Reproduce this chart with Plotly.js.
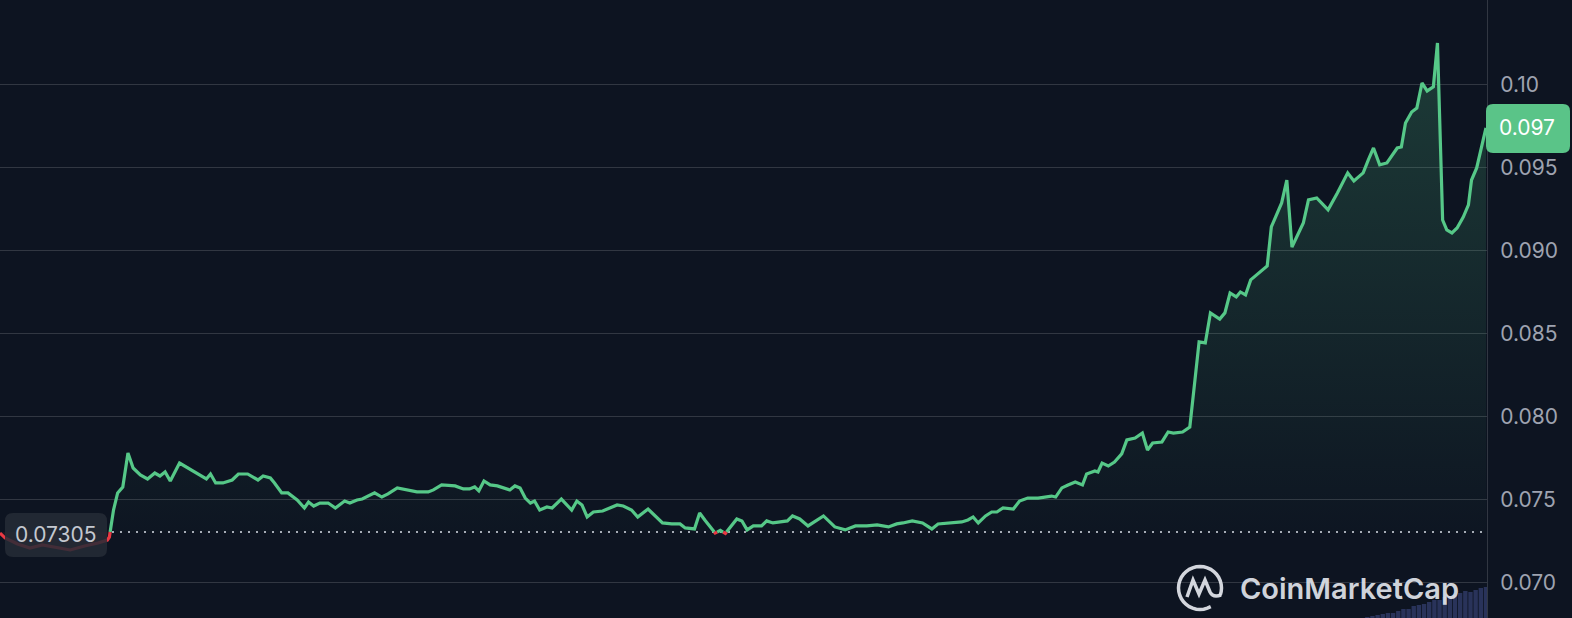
<!DOCTYPE html>
<html><head><meta charset="utf-8">
<script src="https://cdn.plot.ly/plotly-3.0.1.min.js"></script>
<style>html,body{margin:0;padding:0;background:#0d1421;overflow:hidden}#chart{width:1572px;height:618px}</style>
</head><body><div id="chart"></div>
<script>
// minutes since start of the 24h window
const minutes = [0,5,17,29,41,53,68,82,95,104,106,110,114,119,124,129,136,143,150,155,160,165,174,182,191,200,204,209,216,225,231,240,250,255,262,266,273,279,288,295,299,304,310,318,325,334,339,346,351,357,363,370,376,385,394,404,415,420,428,441,449,455,460,464,469,475,482,487,494,499,504,509,514,518,523,530,535,544,554,559,564,569,575,584,591,598,604,612,618,628,642,651,659,664,673,678,683,693,698,703,714,719,724,730,738,743,749,763,768,775,783,798,809,819,829,840,850,861,869,875,884,894,903,909,921,932,938,943,948,955,961,966,972,982,988,996,1006,1013,1019,1023,1029,1035,1042,1049,1053,1061,1064,1068,1074,1080,1087,1092,1100,1107,1112,1117,1126,1132,1137,1146,1153,1158,1162,1168,1173,1182,1187,1192,1198,1202,1207,1212,1221,1228,1232,1237,1242,1247,1252,1263,1268,1276,1287,1296,1306,1312,1321,1326,1331,1337,1344,1354,1358,1362,1368,1373,1378,1383,1389,1393,1398,1402,1407,1412,1418,1423,1426,1431,1436,1440];
const prices = [0.07299,0.07269,0.07233,0.07209,0.07227,0.07215,0.07197,0.07221,0.07239,0.07257,0.07275,0.07438,0.07541,0.07577,0.07782,0.07691,0.07649,0.07625,0.07661,0.07643,0.07667,0.07613,0.07721,0.07691,0.07661,0.07625,0.07655,0.07601,0.07601,0.07619,0.07655,0.07655,0.07619,0.07643,0.07631,0.07601,0.07541,0.07541,0.07498,0.07450,0.07486,0.07462,0.07480,0.07480,0.07450,0.07492,0.07480,0.07498,0.07504,0.07522,0.07541,0.07516,0.07535,0.07571,0.07559,0.07547,0.07547,0.07559,0.07589,0.07583,0.07565,0.07565,0.07577,0.07553,0.07613,0.07589,0.07583,0.07571,0.07559,0.07583,0.07571,0.07510,0.07480,0.07492,0.07438,0.07456,0.07450,0.07504,0.07438,0.07492,0.07468,0.07396,0.07426,0.07432,0.07450,0.07468,0.07462,0.07438,0.07396,0.07444,0.07360,0.07354,0.07354,0.07330,0.07324,0.07420,0.07378,0.07299,0.07315,0.07297,0.07384,0.07372,0.07318,0.07342,0.07342,0.07372,0.07360,0.07372,0.07402,0.07384,0.07342,0.07402,0.07336,0.07318,0.07342,0.07342,0.07348,0.07336,0.07354,0.07360,0.07372,0.07360,0.07324,0.07354,0.07360,0.07366,0.07378,0.07396,0.07360,0.07402,0.07426,0.07426,0.07450,0.07444,0.07492,0.07510,0.07510,0.07516,0.07522,0.07516,0.07571,0.07589,0.07607,0.07589,0.07655,0.07673,0.07667,0.07721,0.07703,0.07727,0.07776,0.07860,0.07872,0.07902,0.07800,0.07842,0.07848,0.07908,0.07902,0.07908,0.07938,0.08222,0.08451,0.08445,0.08626,0.08589,0.08626,0.08746,0.08722,0.08752,0.08734,0.08825,0.08873,0.08909,0.09144,0.09216,0.09289,0.09427,0.09023,0.09168,0.09307,0.09319,0.09247,0.09349,0.09470,0.09421,0.09470,0.09548,0.09620,0.09518,0.09530,0.09620,0.09626,0.09771,0.09837,0.09861,0.10012,0.09964,0.09988,0.10253,0.09186,0.09126,0.09108,0.09138,0.09204,0.09277,0.09427,0.09500,0.09638,0.09741];
const openPrice = 0.07305;
const tickValues = [0.070,0.075,0.080,0.085,0.090,0.095,0.100];
const tickLabels = ['0.070','0.075','0.080','0.085','0.090','0.095','0.10'];
const volMinutes = [1325,1330,1335,1340,1345,1350,1355,1360,1365,1370,1375,1380,1385,1390,1395,1400,1405,1410,1415,1420,1425,1430,1435,1440];
const volumes = [12,24,36,48,60,60,84,108,108,144,156,168,192,216,216,252,264,276,300,324,312,336,360,372];

const GREEN = 'rgb(86,200,136)';
const RED = 'rgb(234,57,67)';
const BG = '#0d1421';
const Y_RANGE = [0.06787, 0.10512];
const W = 1572, H = 618, MR = 85;
const PLOT_W = W - MR;

// insert baseline crossings so the line can switch colour exactly at the open price
const ax = [], ay = [];
for (let i = 0; i < minutes.length; i++) {
  if (i > 0) {
    const y0 = prices[i-1], y1 = prices[i];
    if ((y0 - openPrice) * (y1 - openPrice) < 0) {
      const t = (openPrice - y0) / (y1 - y0);
      ax.push(minutes[i-1] + t * (minutes[i] - minutes[i-1]));
      ay.push(openPrice);
    }
  }
  ax.push(minutes[i]); ay.push(prices[i]);
}
const upLine = ay.map(v => v >= openPrice ? v : null);
const dnLine = ay.map(v => v <= openPrice ? v : null);
const upFill = ay.map(v => Math.max(v, openPrice));
const dnFill = ay.map(v => Math.min(v, openPrice));
const baseArr = ay.map(() => openPrice);
const lastPrice = prices[prices.length - 1];

const traces = [
  {x: volMinutes, y: volumes, type: 'bar', yaxis: 'y2', marker: {color: 'rgba(75,88,160,0.45)', line: {width: 0}}, hoverinfo: 'skip'},
  {x: ax, y: baseArr, mode: 'lines', line: {width: 0}, hoverinfo: 'skip'},
  {x: ax, y: upFill, mode: 'lines', line: {width: 0}, fill: 'tonexty', fillcolor: 'rgba(86,200,136,0.15)',
   fillgradient: {type: 'vertical', start: openPrice, stop: 0.1025, colorscale: [[0, 'rgba(86,200,136,0.01)'], [1, 'rgba(86,200,136,0.22)']]}, hoverinfo: 'skip'},
  {x: ax, y: baseArr, mode: 'lines', line: {width: 0}, hoverinfo: 'skip'},
  {x: ax, y: dnFill, mode: 'lines', line: {width: 0}, fill: 'tonexty', fillcolor: 'rgba(234,57,67,0.07)', hoverinfo: 'skip'},
  {x: ax, y: upLine, mode: 'lines', line: {color: GREEN, width: 3.2, shape: 'linear'}, connectgaps: false, hoverinfo: 'skip'},
  {x: ax, y: dnLine, mode: 'lines', line: {color: RED, width: 3.2, shape: 'linear'}, connectgaps: false, hoverinfo: 'skip'}
];

function roundRect(x1, y1, x2, y2, r) {
  return `M ${x1+r},${y1} L ${x2-r},${y1} Q ${x2},${y1} ${x2},${y1+r} L ${x2},${y2-r} Q ${x2},${y2} ${x2-r},${y2} L ${x1+r},${y2} Q ${x1},${y2} ${x1},${y2-r} L ${x1},${y1+r} Q ${x1},${y1} ${x1+r},${y1} Z`;
}
const toPaperY = v => (v - Y_RANGE[0]) / (Y_RANGE[1] - Y_RANGE[0]);

// CoinMarketCap logo ring (decorative)
const ringPts = [];
for (let a = -20; a <= 300; a += 10) {
  const r = a * Math.PI / 180;
  ringPts.push(`${(21.5*Math.cos(r)).toFixed(2)},${(21.5*Math.sin(r)).toFixed(2)}`);
}
const ringPath = 'M ' + ringPts.join(' L ');
const mPath = 'M -13,-9 L -7,8 L -1,-6 L 5,8 L 10,-4 Q 13,-10 21,-7';
const logoX = 1200 / PLOT_W, logoY = 1 - 588 / H;

const shapes = [
  {type: 'line', xref: 'paper', yref: 'y', x0: 112 / PLOT_W, x1: 1, y0: openPrice, y1: openPrice,
   line: {color: 'rgba(205,210,220,0.8)', width: 2, dash: '2px,6px'}, layer: 'below'},
  {type: 'path', xref: 'paper', yref: 'paper', xsizemode: 'pixel', ysizemode: 'pixel', xanchor: 0, yanchor: toPaperY(openPrice),
   path: roundRect(5, -25, 107, 19, 8), fillcolor: 'rgba(38,43,54,0.85)', line: {width: 0}, layer: 'above'},
  {type: 'path', xref: 'paper', yref: 'paper', xsizemode: 'pixel', ysizemode: 'pixel', xanchor: 1, yanchor: toPaperY(lastPrice),
   path: roundRect(-1, -25, 83, 24, 7), fillcolor: 'rgb(90,196,136)', line: {width: 0}, layer: 'above'},
  {type: 'path', xref: 'paper', yref: 'paper', xsizemode: 'pixel', ysizemode: 'pixel', xanchor: logoX, yanchor: logoY,
   path: ringPath, line: {color: 'rgba(228,231,238,0.92)', width: 3.5}, layer: 'above'},
  {type: 'path', xref: 'paper', yref: 'paper', xsizemode: 'pixel', ysizemode: 'pixel', xanchor: logoX, yanchor: logoY,
   path: mPath, line: {color: 'rgba(228,231,238,0.92)', width: 3.5}, layer: 'above'}
];

const annotations = [
  {xref: 'paper', yref: 'y', x: 56 / PLOT_W, y: openPrice, yshift: -2, text: openPrice.toFixed(5), showarrow: false,
   xanchor: 'center', yanchor: 'middle', font: {family: 'Inter, sans-serif', size: 21, color: '#c4c8d0'}},
  {xref: 'paper', yref: 'y', x: 1527 / PLOT_W, y: lastPrice, text: lastPrice.toFixed(3), showarrow: false,
   xanchor: 'center', yanchor: 'middle', font: {family: 'Inter, sans-serif', size: 21, color: '#ffffff'}},
  {xref: 'paper', yref: 'paper', x: 1238 / PLOT_W, y: 1 - 588 / H, text: 'CoinMarketCap', showarrow: false,
   xanchor: 'left', yanchor: 'middle', font: {family: 'Inter, sans-serif', size: 29, weight: 600, color: 'rgba(228,231,238,0.92)'}}
];

const layout = {
  width: W, height: H,
  margin: {l: 0, r: MR, t: 0, b: 0, pad: 0},
  paper_bgcolor: BG, plot_bgcolor: BG,
  showlegend: false,
  bargap: 0.15,
  xaxis: {range: [0, 1441], visible: false, fixedrange: true},
  yaxis: {range: Y_RANGE, side: 'right', tickvals: tickValues, ticktext: tickLabels, ticks: '',
          ticklabelstandoff: 8, showgrid: true, gridcolor: 'rgba(255,255,255,0.15)', gridwidth: 1,
          zeroline: false, showline: true, linecolor: 'rgba(255,255,255,0.15)', linewidth: 1,
          tickfont: {family: 'Inter, sans-serif', size: 21, color: '#9ea3b0'}, fixedrange: true},
  yaxis2: {overlaying: 'y', range: [0, Math.max(...volumes) * H / 31], visible: false, fixedrange: true},
  shapes: shapes,
  annotations: annotations,
  hovermode: false
};

Plotly.newPlot('chart', traces, layout, {staticPlot: true, displayModeBar: false});
</script>
</body></html>
